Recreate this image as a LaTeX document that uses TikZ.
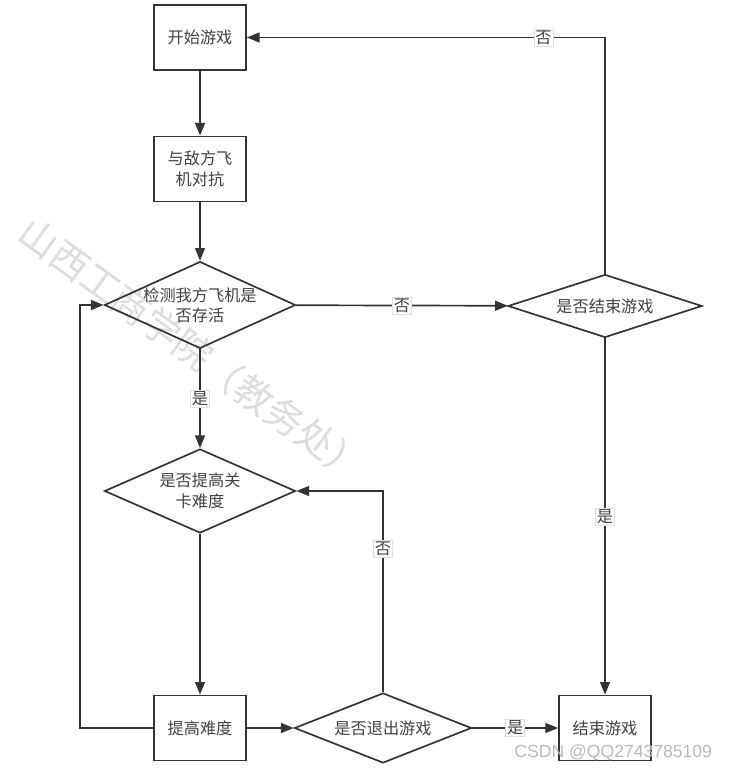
\documentclass[tikz,border=0pt]{standalone}
\usepackage{fontspec}
\setmainfont{Liberation Sans}
\newfontfamily\cjk{Noto Sans CJK SC}
\usetikzlibrary{shapes.geometric,arrows.meta}
\definecolor{linegray}{HTML}{333333}
\definecolor{textgray}{HTML}{404040}

\begin{document}
\begin{tikzpicture}[x=0.025cm,y=-0.025cm,
  font=\cjk\fontsize{11.5}{14.5}\selectfont,
  box/.style={draw=linegray, line width=1.2pt, minimum width=2.3cm, minimum height=1.625cm, align=center, text=textgray, inner sep=0pt},
  choice/.style={diamond, draw=linegray, line width=1.2pt, align=center, text=textgray, inner sep=0pt, shape aspect=2.2},
  arr/.style={draw=linegray, line width=1.2pt, -{Triangle[length=9pt,width=7pt]}},
  lbl/.style={fill=white, draw=gray!25, line width=0.4pt, inner sep=1pt, text=textgray}]
\useasboundingbox (0,0) rectangle (732,773);
\node[rotate=-36, text=gray!27, font=\cjk\fontsize{27}{27}\selectfont] (mark) at (193,350) {山西工商学院（教务处）};

\node[box] (start) at (200,37.5) {开始游戏};
\node[box] (fight) at (200,169) {与敌方飞\\机对抗};
\node[choice, minimum width=4.65cm, minimum height=2.15cm] (alive) at (200,305) {检测我方飞机是\\否存活};
\node[choice, minimum width=4.85cm, minimum height=1.575cm] (over) at (605,306) {是否结束游戏};
\node[choice, minimum width=4.775cm, minimum height=2.1cm] (harder) at (200,491) {是否提高关\\卡难度};
\node[box] (raise) at (200,728) {提高难度};
\node[choice, minimum width=4.425cm, minimum height=1.75cm] (quit) at (383,728) {是否退出游戏};
\node[box] (finish) at (605,728) {结束游戏};
\coordinate (back) at (80,305);

\draw[arr] (start) -- (fight);
\draw[arr] (fight) -- (alive);
\draw[arr] (alive) -- node[lbl]{否} (over);
\draw[arr] (over.north) |- node[lbl, pos=0.586]{否} (start.east);
\draw[arr] (over) -- node[lbl]{是} (finish);
\draw[arr] (alive) -- node[lbl]{是} (harder);
\draw[arr] (harder) -- (raise);
\draw[arr] (raise) -- (quit);
\draw[arr] (quit) -- node[lbl]{是} (finish);
\draw[arr] (quit.north) |- node[lbl, pos=0.357]{否} (harder.east);
\draw[arr] (raise.west) -| (back) -- (alive.west);

\node[anchor=east, text=gray!55, font=\fontsize{12.5}{14}\selectfont] (csdn) at (717,753) {CSDN @QQ2743785109};
\end{tikzpicture}
\end{document}
